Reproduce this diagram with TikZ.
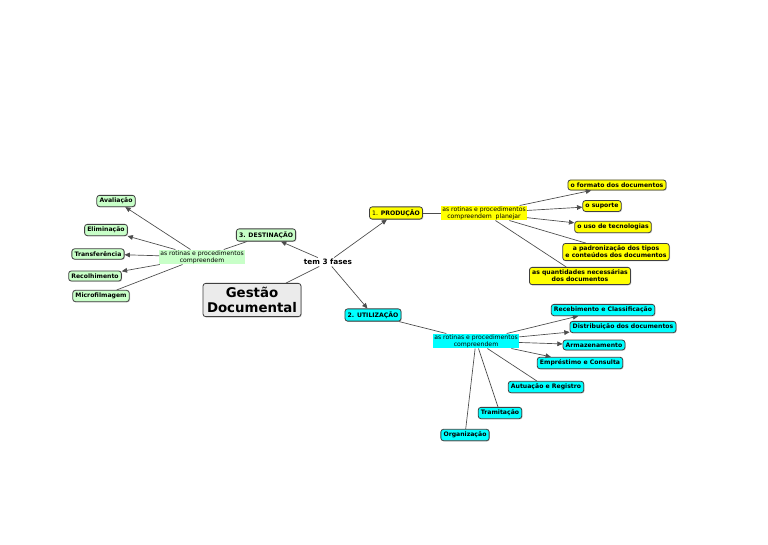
\documentclass[tikz,border=0pt]{standalone}
\usepackage{fontspec}
\setmainfont{DejaVu Sans}
\usetikzlibrary{arrows.meta,shadows}
\definecolor{gr}{RGB}{200,255,200}
\definecolor{ye}{RGB}{255,255,0}
\definecolor{cy}{RGB}{0,255,255}
\begin{document}
\begin{tikzpicture}[x=0.75pt,y=-0.75pt,
 box/.style={draw=black!75,rounded corners=2pt,line width=0.6pt,font=\fontsize{4.6}{5.2}\selectfont\bfseries,inner sep=2pt,align=center,drop shadow={shadow xshift=0.6pt,shadow yshift=-0.6pt,fill=black!35}},
 gbox/.style={box,fill=gr},ybox/.style={box,fill=ye},cbox/.style={box,fill=cy},
 lnk/.style={font=\fontsize{4.6}{5.2}\selectfont,inner sep=0.6pt,align=center},
 ln/.style={draw=black!70,line width=0.5pt},
 ar/.style={ln,-{Triangle[length=4pt,width=3.5pt]}}]
\fill[white] (0,0) rectangle (768,544);
\node[box,fill=black!8,font=\fontsize{10}{11}\selectfont\bfseries,inner sep=3pt] (g) at (252,300) {Gestão\\Documental};
\node[font=\fontsize{5.5}{6}\selectfont\bfseries,inner sep=1pt] (t) at (328,262) {tem 3 fases};
\node[gbox] (d) at (266,235) {3. DESTINAÇÃO};
\node[ybox] (p) at (396,213) {{\mdseries 1.} PRODUÇÃO};
\node[cbox] (u) at (373,315) {2. UTILIZAÇÃO};
\draw[ln] (g) -- (t);
\draw[ar] (t) -- (d); \draw[ar] (t) -- (p); \draw[ar] (t) -- (u);
% green
\node[lnk,fill=gr] (lg) at (202,257) {as rotinas e procedimentos\\compreendem};
\node[gbox] (g1) at (116,201) {Avaliação};
\node[gbox] (g2) at (106,230) {Eliminação};
\node[gbox] (g3) at (98,254) {Transferência};
\node[gbox] (g4) at (95,276) {Recolhimento};
\node[gbox] (g5) at (101,296) {Microfilmagem};
\draw[ln] (d) -- (lg);
\foreach \n in {g1,g2,g3,g4} \draw[ar] (lg) -- (\n);
\draw[ln] (lg) -- (g5);
% yellow
\node[lnk,fill=ye] (ly) at (484,213) {as rotinas e procedimentos\\compreendem\ \ planejar};
\node[ybox] (y1) at (617,185) {o formato dos documentos};
\node[ybox] (y2) at (602,206) {o suporte};
\node[ybox] (y3) at (613,227) {o uso de tecnologias};
\node[ybox] (y4) at (616,252) {a padronização dos tipos\\e conteúdos dos documentos};
\node[ybox] (y5) at (580,276) {as quantidades necessárias\\dos documentos};
\draw[ln] (p) -- (ly);
\foreach \n in {y1,y2,y3} \draw[ar] (ly) -- (\n);
\draw[ln] (ly) -- (y4); \draw[ln] (ly) -- (y5);
% cyan
\node[lnk,fill=cy] (lc) at (476,341) {as rotinas e procedimentos\\compreendem};
\node[cbox] (c1) at (603,310) {Recebimento e Classificação};
\node[cbox] (c2) at (623,327) {Distribuição dos documentos};
\node[cbox] (c3) at (594,345) {Armazenamento};
\node[cbox] (c4) at (580,363) {Empréstimo e Consulta};
\node[cbox] (c5) at (546,387) {Autuação e Registro};
\node[cbox] (c6) at (500,413) {Tramitação};
\node[cbox] (c7) at (465,435) {Organização};
\draw[ln] (u) -- (lc);
\foreach \n in {c1,c2,c3,c4} \draw[ar] (lc) -- (\n);
\foreach \n in {c5,c6,c7} \draw[ln] (lc) -- (\n);
\end{tikzpicture}
\end{document}
